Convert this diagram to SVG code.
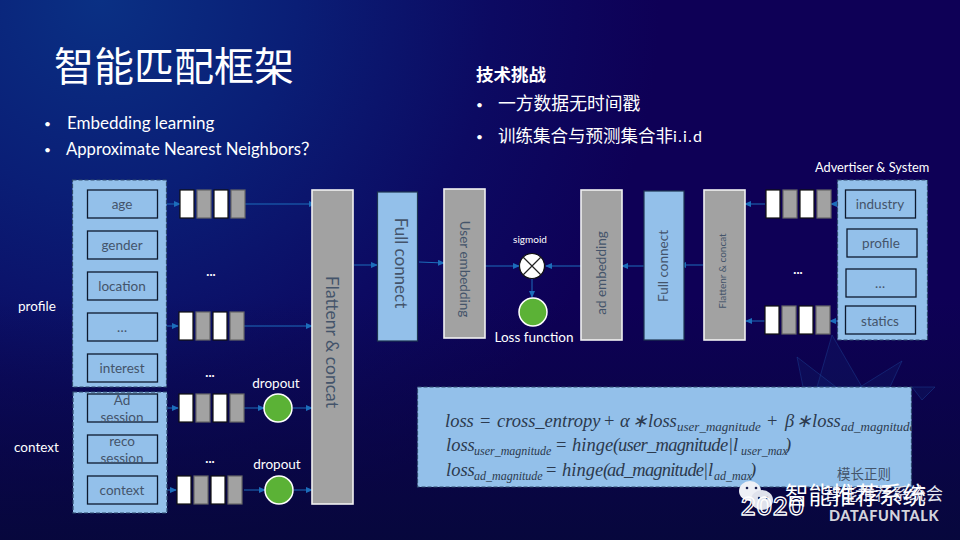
<svg xmlns="http://www.w3.org/2000/svg" width="960" height="540" viewBox="0 0 960 540">
<style>
text{font-family:Lato,"Noto Sans CJK SC",sans-serif}
.w{fill:#fff}
.c{text-anchor:middle}
.panel{fill:#93c0ea;stroke:#2f4a6e;stroke-width:1.2;stroke-dasharray:4 2}
.fld{fill:#93c0ea;stroke:#0d1a2e;stroke-width:1.3}
.ft{fill:#44546a;font-size:13.500px;text-anchor:middle}
.wc{fill:#fff;stroke:#111;stroke-width:1.2}
.gc{fill:#a2a2a2;stroke:#666;stroke-width:1.2}
.gray{fill:#a2a2a2;stroke:#f2f2f2;stroke-width:1.6}
.blue{fill:#93c0ea;stroke:#1d3450;stroke-width:1.2}
.vt{fill:#44546a;text-anchor:middle}
.green{fill:#5bb236;stroke:#fff;stroke-width:1.5}
.l{stroke:#1c6dbb;stroke-width:1;fill:none;marker-end:url(#a)}
.m{font-family:"Liberation Serif",serif;font-style:italic;fill:#2c3a4e;font-size:18.500px}
.s{font-size:13px}
.s2{font-size:12px}
.tri{fill:#12307e;fill-opacity:0.2;stroke:#1d4aa0;stroke-width:1;stroke-opacity:0.4}
</style>
<defs>
<radialGradient id="bg" gradientUnits="userSpaceOnUse" cx="100" cy="0" r="560"><stop offset="0" stop-color="#0a3084"/><stop offset="0.35" stop-color="#0a1e76"/><stop offset="0.7" stop-color="#0c0a62"/><stop offset="1" stop-color="#0e0056"/></radialGradient>
<linearGradient id="bg2" x1="0" y1="0" x2="0" y2="1"><stop offset="0.55" stop-color="#06083a" stop-opacity="0"/><stop offset="1" stop-color="#06083a" stop-opacity="0.9"/></linearGradient>
<marker id="a" markerWidth="7" markerHeight="6" refX="6" refY="3" orient="auto" markerUnits="userSpaceOnUse"><path d="M0 0L7 3L0 6Z" fill="#1c6dbb"/></marker>
<clipPath id="fc"><rect x="418" y="387" width="494" height="100"/></clipPath>
<g id="cells"><rect class="wc" x="0" y="0" width="14" height="28"/><rect class="gc" x="17" y="0" width="14" height="28"/><rect class="wc" x="34" y="0" width="14" height="28"/><rect class="gc" x="51" y="0" width="14" height="28"/></g>
</defs>
<rect width="960" height="540" fill="url(#bg)"/>
<rect width="960" height="540" fill="url(#bg2)"/>
<g id="bg-triangles"><path class="tri" d="M832 335L817 387H862Z"/><path class="tri" d="M797 357L803 387H836Z"/><path class="tri" d="M902 361L860 387H890Z"/><path class="tri" d="M912 387H935L922 400Z"/></g>

<g id="title"><text class="w" x="54" y="81" font-size="40">智能匹配框架</text></g>
<g id="bullets-left">
<text class="w" x="44" y="128" font-size="12">•</text><text class="w" x="67" y="129" font-size="17">Embedding learning</text>
<text class="w" x="44" y="154" font-size="12">•</text><text class="w" x="66" y="155" font-size="16.700">Approximate Nearest Neighbors？</text>
</g>
<g id="bullets-right">
<text class="w" x="476" y="81" font-size="17.500" font-weight="700">技术挑战</text>
<text class="w" x="476" y="109" font-size="12">•</text><text class="w" x="498" y="110" font-size="17.800">一方数据无时间戳</text>
<text class="w" x="476" y="141" font-size="12">•</text><text class="w" x="498" y="142" font-size="17.500">训练集合与预测集合非<tspan letter-spacing="1.200" font-size="16">i.i.d</tspan></text>
</g>

<g id="connectors">
<path class="l" d="M158 204H180"/><path class="l" d="M245 204H315"/>
<path class="l" d="M158 326H178"/><path class="l" d="M244 326H312"/>
<path class="l" d="M158 408H178"/><path class="l" d="M244 408H264"/><path class="l" d="M293 408H312"/>
<path class="l" d="M158 490H176"/><path class="l" d="M244 490H265"/><path class="l" d="M294 490H312"/>
<path class="l" d="M354 265H377"/><path class="l" d="M419 262L444 263"/>
<path class="l" d="M485 266H519"/><path class="l" d="M581 266H546"/><path class="l" d="M532 279V297"/>
<path class="l" d="M644 266H622"/><path class="l" d="M703 265H680"/>
<path class="l" d="M765 204H745"/><path class="l" d="M845 204H831"/>
<path class="l" d="M765 321H746"/><path class="l" d="M845 321H830"/>
</g>

<g id="panel-profile"><rect class="panel" x="72.500" y="180" width="94" height="207"/>
<text class="w" x="18" y="311" font-size="13.500">profile</text></g>
<g id="panel-context"><rect class="panel" x="73" y="392" width="94" height="121"/>
<text class="w" x="14" y="452" font-size="13.500">context</text></g>
<g id="age"><rect class="fld" x="87.500" y="190" width="70" height="28"/><text class="ft" x="122" y="209">age</text></g>
<g id="gender"><rect class="fld" x="87.500" y="231" width="70" height="28"/><text class="ft" x="122" y="250">gender</text></g>
<g id="location"><rect class="fld" x="87.500" y="272" width="70" height="28"/><text class="ft" x="122" y="291">location</text></g>
<g id="dots-field"><rect class="fld" x="87.500" y="313" width="70" height="28"/><text class="ft" x="122" y="332">…</text></g>
<g id="interest"><rect class="fld" x="87.500" y="354" width="70" height="28"/><text class="ft" x="122" y="373">interest</text></g>
<g id="ad-session"><rect class="fld" x="87.500" y="394" width="70" height="28"/><text class="ft" x="122" y="405">Ad</text><text class="ft" x="122" y="422">session</text></g>
<g id="reco-session"><rect class="fld" x="87.500" y="435" width="70" height="28"/><text class="ft" x="122" y="446">reco</text><text class="ft" x="122" y="463">session</text></g>
<g id="context"><rect class="fld" x="87.500" y="476" width="70" height="28"/><text class="ft" x="122" y="495">context</text></g>

<g id="cells-1"><use href="#cells" x="180" y="190"/></g>
<g id="cells-2"><use href="#cells" x="179" y="312"/></g>
<g id="cells-3"><use href="#cells" x="179" y="394"/></g>
<g id="cells-4"><use href="#cells" x="177" y="476"/></g>
<g id="dots"><text class="w c" x="211" y="276" font-size="13" font-weight="700">...</text><text class="w c" x="210" y="377" font-size="13" font-weight="700">...</text><text class="w c" x="210" y="463" font-size="13" font-weight="700">...</text><text class="w c" x="798" y="274" font-size="13" font-weight="700">...</text></g>

<g id="dropout-1"><circle class="green" cx="278" cy="408" r="14"/><text class="w c" x="276" y="388" font-size="13.500">dropout</text></g>
<g id="dropout-2"><circle class="green" cx="279" cy="490" r="14"/><text class="w c" x="277" y="469" font-size="13.500">dropout</text></g>

<g id="flatten-left"><rect class="gray" x="312" y="190" width="41" height="314"/><text class="vt" font-size="17.500" transform="translate(326 342) rotate(90)">Flattenr &amp; concat</text></g>
<g id="full-connect-left"><rect class="blue" x="377.500" y="192" width="40" height="149"/><text class="vt" font-size="17" transform="translate(395 263) rotate(90)">Full connect</text></g>
<g id="user-embedding"><rect class="gray" x="444" y="189" width="41" height="149"/><text class="vt" font-size="13.500" transform="translate(460 269) rotate(90)">User embedding</text></g>
<g id="sigmoid"><circle cx="532" cy="266" r="12.500" fill="#fff" stroke="#111" stroke-width="1.2"/><path d="M523 257L541 275M541 257L523 275" stroke="#222" stroke-width="1.200"/><text class="w c" x="530" y="243" font-size="10">sigmoid</text></g>
<g id="loss-function"><circle class="green" cx="533" cy="312" r="14"/><text class="w c" x="534" y="342" font-size="13.500">Loss function</text></g>
<g id="ad-embedding"><rect class="gray" x="581" y="190" width="41" height="150"/><text class="vt" font-size="13.500" transform="translate(606 273) rotate(-90)">ad embedding</text></g>
<g id="full-connect-right"><rect class="blue" x="644" y="191" width="40" height="149"/><text class="vt" font-size="13.500" transform="translate(668 266) rotate(-90)">Full connect</text></g>
<g id="flatten-right"><rect class="gray" x="704" y="190" width="41" height="150"/><text class="vt" font-size="10" transform="translate(726 271) rotate(-90)">Flattenr &amp; concat</text></g>
<g id="cells-5"><use href="#cells" x="766" y="190"/></g>
<g id="cells-6"><use href="#cells" x="765" y="306"/></g>
<g id="panel-advertiser"><rect class="panel" x="837.500" y="180" width="90" height="160"/><text class="w" x="815" y="172" font-size="12.800">Advertiser &amp; System</text></g>
<g id="industry"><rect class="fld" x="845.500" y="190" width="70" height="28"/><text class="ft" x="880" y="209">industry</text></g>
<g id="profile"><rect class="fld" x="847" y="229" width="70" height="28"/><text class="ft" x="881" y="248">profile</text></g>
<g id="dots-right"><rect class="fld" x="846" y="269" width="70" height="28"/><text class="ft" x="880" y="288">…</text></g>
<g id="statics"><rect class="fld" x="845.500" y="306" width="70" height="28"/><text class="ft" x="880" y="326">statics</text></g>

<g id="formula-panel"><rect class="panel" x="417.500" y="387" width="494" height="100"/>
<g clip-path="url(#fc)">
<text class="m" y="427"><tspan x="445">loss</tspan><tspan x="480" font-style="normal">=</tspan><tspan x="497">cross_entropy</tspan><tspan x="604" font-style="normal">+</tspan><tspan x="620">α</tspan><tspan x="632">∗</tspan><tspan x="648">loss</tspan><tspan class="s" x="677" dy="4">user_magnitude</tspan><tspan x="767" dy="-4" font-style="normal">+</tspan><tspan x="785">β</tspan><tspan x="796">∗</tspan><tspan x="812">loss</tspan><tspan class="s" x="841" dy="4">ad_magnitude</tspan></text>
<text class="m" y="451"><tspan x="446">loss</tspan><tspan class="s2" x="474" dy="4">user_magnitude</tspan><tspan x="556" dy="-4" font-style="normal">=</tspan><tspan x="572">hinge(</tspan><tspan x="618" letter-spacing="-0.700">user_magnitude</tspan><tspan x="728">|</tspan><tspan x="733">l</tspan><tspan class="s2" x="741" dy="4">user_max</tspan><tspan x="785" dy="-4">)</tspan></text>
<text class="m" y="476"><tspan x="446">loss</tspan><tspan class="s2" x="474" dy="4">ad_magnitude</tspan><tspan x="546" dy="-4" font-style="normal">=</tspan><tspan x="562">hinge(</tspan><tspan x="607" letter-spacing="-0.800">ad_magnitude</tspan><tspan x="703">|</tspan><tspan x="708">l</tspan><tspan class="s2" x="714" dy="4">ad_max</tspan><tspan x="750" dy="-4">)</tspan></text>
</g>
<text x="837" y="479" font-size="13.500" fill="#44546a">模长正则</text></g>

<g id="watermark">
<g fill="#eef0f6"><ellipse cx="750" cy="491" rx="11" ry="10"/><ellipse cx="762" cy="500" rx="11" ry="10" fill="#dfe2ec"/></g>
<g fill="#1a2050"><circle cx="747" cy="488" r="1.300"/><circle cx="756" cy="488" r="1.300"/><circle cx="759" cy="498" r="1.200"/><circle cx="767" cy="498" r="1.200"/></g>
<text x="741" y="515" font-size="25" font-weight="700" fill="none" stroke="#fff" stroke-width="1.300" letter-spacing="1.500">2020</text>
<text x="824" y="500" font-size="17" fill="#e4e6f0">智能推荐系统会</text>
<text x="785" y="504" font-size="23.500" fill="#fff">智能推荐系统</text>
<text x="829" y="521" font-size="14.500" font-weight="900" fill="#d4d4dc" letter-spacing="0.600">DATAFUNTALK</text>
</g>
</svg>
